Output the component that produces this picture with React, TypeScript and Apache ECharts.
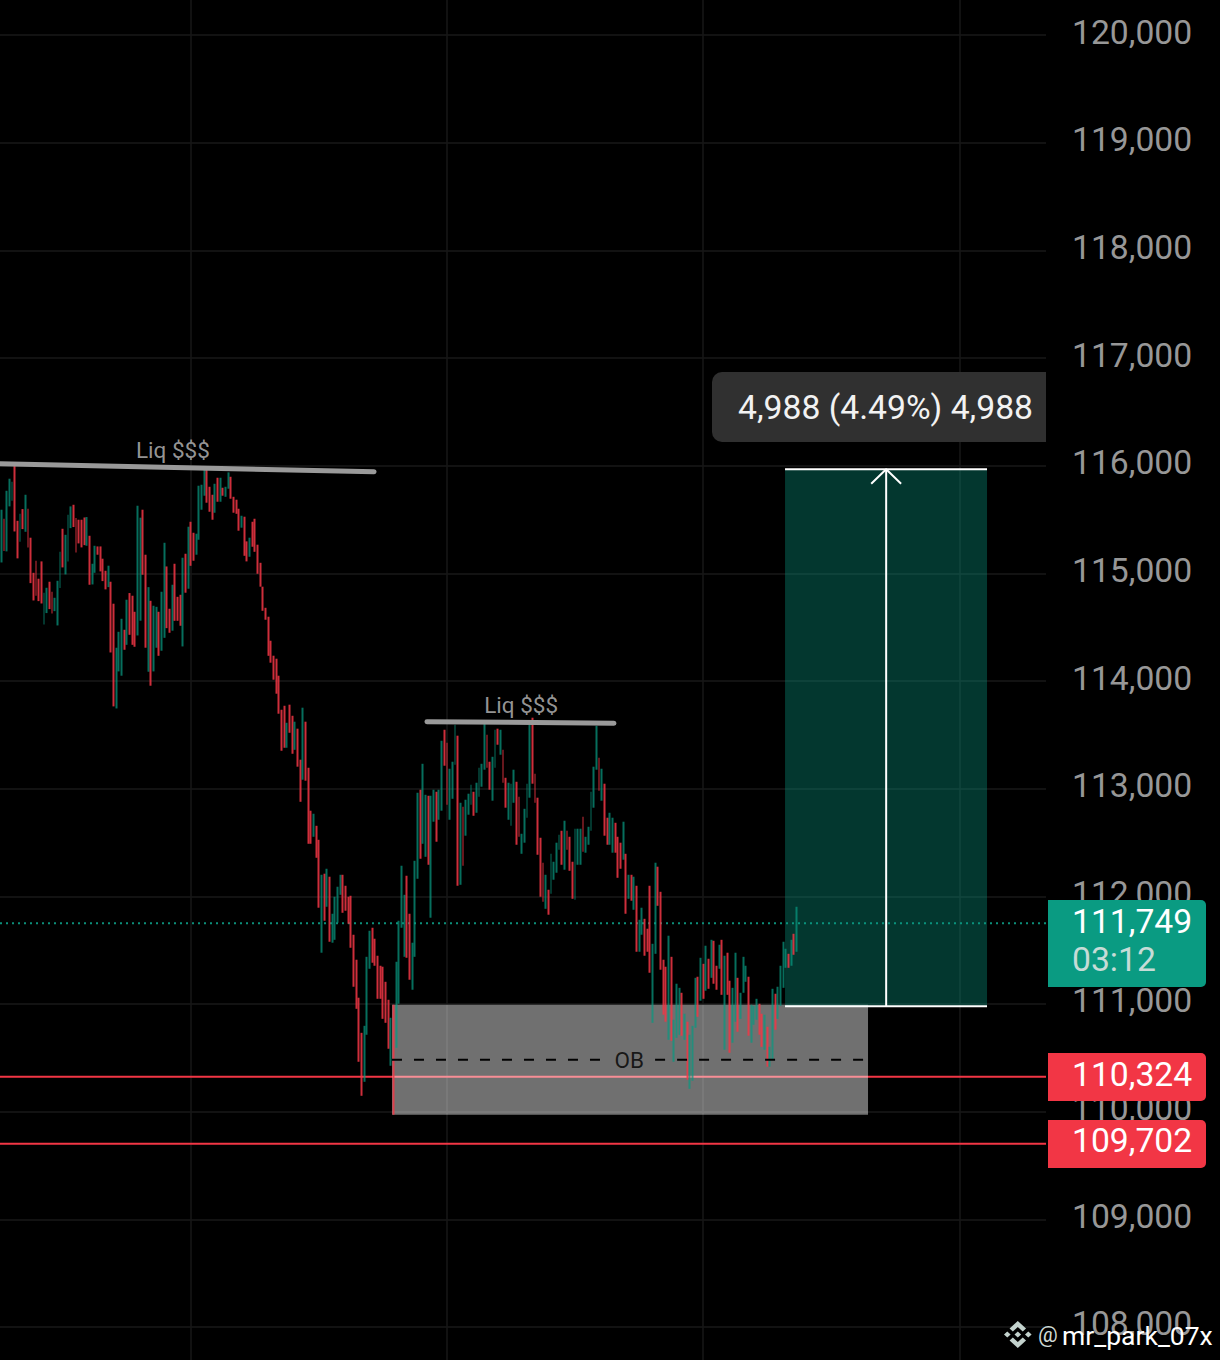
import React, { useEffect, useRef } from "react";
import * as echarts from "echarts";

const priceTicks = [121000, 120000, 119000, 118000, 117000, 116000, 115000, 114000, 113000, 112000, 111000, 110000, 109000, 108000, 107000];

const candleHighs = [
  115591, 115507, 115767, 115879, 115851, 116034, 115488, 115553, 115597, 115730,
  115600, 115331, 115005, 115117, 114950, 115111, 114819, 114866, 114922, 114829,
  114773, 114931, 115200, 115414, 115358, 115544, 115622, 115637, 115513, 115498,
  115498, 115519, 115523, 115349, 115089, 115256, 115250, 115250, 115136, 115024,
  115071, 114922, 114718, 114309, 114457, 114578, 114476, 114755, 114817, 114792,
  114643, 115628, 115517, 115591, 115173, 114872, 114745, 114699, 114689, 114643,
  114829, 115284, 115064, 114671, 114894, 115089, 114782, 114801, 115145, 115182,
  115433, 115479, 115377, 115368, 115814, 115823, 115981, 115972, 115804, 115730,
  115832, 115888, 115888, 115795, 115804, 115938, 115897, 115711, 115684, 115600,
  115535, 115526, 115297, 115331, 115479, 115507, 115266, 115098, 114876, 114680,
  114597, 114374, 114235, 114207, 114049, 113733, 113770, 113612, 113780, 113677,
  113622, 113557, 113269, 113752, 113622, 113194, 112795, 112767, 112655, 112525,
  112200, 112210, 112256, 112182, 111838, 111996, 112089, 112200, 112200, 112098,
  111996, 112005, 111643, 111411, 111058, 110732, 110797, 111438, 111680, 111708,
  111606, 111448, 111355, 111346, 111206, 111039, 110872, 110993, 111392, 111773,
  112284, 112014, 112191, 111838, 111569, 112330, 112962, 112990, 113231, 112943,
  112934, 112934, 112990, 112971, 112990, 113445, 113547, 113427, 113185, 113250,
  113594, 113492, 112869, 112832, 112897, 112953, 113036, 112971, 113055, 113194,
  113231, 113603, 113501, 113250, 113296, 113547, 113557, 113547, 113361, 113101,
  113055, 113046, 113176, 113064, 112925, 112581, 112813, 113046, 113594, 113659,
  113139, 112916, 112544, 112312, 112200, 112061, 112395, 112321, 112498, 112572,
  112609, 112702, 112609, 112553, 112321, 112628, 112628, 112628, 112739, 112553,
  112646, 112971, 113204, 113584, 113287, 113185, 113046, 112730, 112776, 112730,
  112683, 112553, 112498, 112693, 112395, 112200, 112200, 112182, 112098, 111782,
  111894, 111791, 111699, 112098, 111559, 112312, 112275, 112042, 111411, 111346,
  111634, 111438, 110853, 111188, 111150, 111104, 110909, 110835, 110714, 110797,
  111243, 111253, 111429, 111373, 111541, 111420, 111596, 111587, 111355, 111550,
  111596, 111448, 111476, 111216, 111150, 111476, 111243, 111104, 111438, 111355,
  111253, 110993, 110983, 111048, 111002, 110909, 110900, 110788, 110602, 111141,
  111095, 111160, 111355, 111578, 111513, 111466, 111596, 111652, 111903,
];

const candleLows = [
  115101, 115207, 115204, 115622, 115674, 115389, 115139, 115293, 115411, 115386,
  115241, 114909, 114748, 114792, 114742, 114720, 114525, 114631, 114668, 114628,
  114649, 114516, 114863, 115055, 114990, 115111, 115420, 115430, 115194, 115278,
  115241, 115262, 115256, 114894, 114897, 115005, 115173, 115018, 114928, 114851,
  114872, 114265, 113764, 113745, 114089, 114049, 114290, 114336, 114429, 114336,
  114318, 114423, 114560, 114987, 114309, 114086, 113956, 114089, 114309, 114234,
  114281, 114401, 114491, 114448, 114467, 114559, 114559, 114513, 114321, 114820,
  114857, 115070, 115117, 115173, 115312, 115591, 115721, 115656, 115572, 115498,
  115563, 115665, 115665, 115721, 115711, 115786, 115693, 115563, 115553, 115396,
  115424, 115163, 115111, 115154, 115247, 115200, 114996, 114876, 114652, 114569,
  114234, 114170, 114012, 113882, 113696, 113352, 113380, 113380, 113519, 113324,
  113361, 113204, 112878, 113083, 113074, 112488, 112488, 112553, 112358, 111894,
  111476, 111773, 111903, 111578, 111569, 111596, 111754, 112014, 111847, 111866,
  111745, 111522, 111160, 110955, 110463, 110147, 110277, 110714, 111327, 111383,
  111355, 111048, 111048, 110862, 110825, 110584, 110426, 109971, 110593, 111002,
  111708, 111438, 111429, 111225, 111132, 111438, 112163, 112349, 112488, 112367,
  112293, 111801, 112693, 112507, 112711, 112795, 113213, 112851, 112711, 112906,
  113222, 112098, 112107, 112284, 112563, 112758, 112851, 112748, 112776, 112925,
  113018, 113176, 113194, 112990, 112888, 113194, 113408, 113315, 113055, 112823,
  112711, 112655, 112869, 112479, 112553, 112395, 112498, 112730, 112916, 113046,
  112869, 112386, 111996, 111949, 111884, 111829, 112024, 112154, 112219, 112433,
  112293, 112247, 112433, 112237, 111977, 111968, 112293, 112293, 112414, 112405,
  112479, 112609, 112823, 113176, 112981, 112888, 112563, 112479, 112479, 112405,
  112405, 112172, 112256, 112340, 111838, 111977, 111959, 111875, 111485, 111485,
  111643, 111448, 111485, 111290, 110825, 111466, 111912, 111318, 110900, 110835,
  110667, 110658, 110463, 110686, 110714, 110705, 110667, 110296, 110212, 110287,
  110779, 110881, 111030, 111048, 111123, 111141, 111243, 111188, 111132, 111327,
  111085, 110575, 111085, 110547, 110640, 110835, 110742, 110862, 111104, 111206,
  110705, 110640, 110807, 110853, 110714, 110602, 110575, 110417, 110417, 110482,
  110760, 110862, 110983, 111150, 111336, 111336, 111355, 111457, 111485,
];

const candleDirections = (
  "GRGGGRRGRG RRRRRRGGRR GGGRGGGRRR RRGRGGRRRR GRRGGGRGRR RGGRRGRGGR GGRRGRRRGR GRRGGGGRRR GRGRGGRRRR GRRGRRRRRR " +
  "RRRRRRRGRR GRRGRRRGRR GRGRGGGGRR RRRRRRGGGR RRRRRRGRGG GGRRGGGRGG RGGRGGRRGG GRGRGGGRGG GGRRGGRGRR GGGRRGGGGR " +
  "RRRRGRGGGG RGRRRGGGRG GGGGRGRRGG RRRGRGRGRG GRRRGGRRRR GRGGGRGRGG GRGRGRGRRG RGRRGGRGGG RGGGRRGRGG RGGGGRGRG"
).replace(/ /g, "").split("");

const candleSlots = Array.from({ length: 392 }, (_, i) => String(i));

const lastPrice = 111749;
const stopLevels = [110324, 109702];
const measureBox = [293.7, 115967, 369.4, 110979];
const measureArrowX = 331.6;
const measureArrowBarbs = [[326, 115833], [331.6, 115967], [337.2, 115833]];
const obBox = [146.4, 110993, 324.8, 109971];
const obLineLevel = 110481;
const obDashLeft = [146.4, 224.4];
const obDashRight = [245, 324.8];
const liqLineA = [[-0.5, 116018], [139.7, 115944]];
const liqLineB = [[159.5, 113622], [229.6, 113608]];
const noteMarks = [
  { value: [64.3, 116149], text: "Liq $$$", color: "#bdbdbd" },
  { value: [194.8, 113780], text: "Liq $$$", color: "#bdbdbd" },
  { value: [235.3, 110475], text: "OB", color: "#000000" },
];

const FONT = "Roboto";
const binancePath =
  "M12 2 L17.5 7.5 L15.3 9.7 L12 6.4 L8.7 9.7 L6.5 7.5 Z M12 22 L6.5 16.5 L8.7 14.3 L12 17.6 L15.3 14.3 L17.5 16.5 Z M5 9.8 L7.2 12 L5 14.2 L2.8 12 Z M19 9.8 L21.2 12 L19 14.2 L16.8 12 Z M12 9.8 L14.2 12 L12 14.2 L9.8 12 Z";
echarts.graphic.registerShape("binanceLogo", echarts.graphic.extendPath(binancePath, {}));

function overlayLine(data: number[][], color: string, width: number, z: number, extra: any = {}) {
  return {
    type: "line",
    xAxisIndex: 1,
    yAxisIndex: 0,
    data,
    symbol: "none",
    silent: true,
    z,
    lineStyle: { color, width, ...extra },
  };
}

function overlayRect(box: number[], fill: string, z: number) {
  return {
    type: "custom",
    xAxisIndex: 1,
    yAxisIndex: 0,
    silent: true,
    z,
    data: [box],
    encode: { x: [0, 2], y: [1, 3] },
    renderItem: (_: any, api: any) => {
      const a = api.coord([api.value(0), api.value(1)]);
      const b = api.coord([api.value(2), api.value(3)]);
      return {
        type: "rect",
        shape: { x: a[0], y: a[1], width: b[0] - a[0], height: b[1] - a[1] },
        style: { fill },
      };
    },
  };
}

function badgeText(text: string, x: number, y: number, fill = "#ffffff", fontSize = 33.7) {
  return {
    type: "text",
    x,
    y,
    z: 30,
    style: { text, fill, font: `${fontSize}px ${FONT}`, textAlign: "left", textVerticalAlign: "middle" },
  };
}

export default function App() {
  const ref = useRef<HTMLDivElement>(null);
  useEffect(() => {
    document.body.style.margin = "0";
    document.body.style.background = "#000";
    const chart = echarts.init(ref.current!, undefined, { renderer: "svg" });
    const candles = candleHighs.map((h, i) =>
      candleDirections[i] === "G" ? [candleLows[i], h, candleLows[i], h] : [h, candleLows[i], candleLows[i], h]
    );
    chart.setOption({
      animation: false,
      backgroundColor: "#000000",
      grid: { left: 0, width: 1046, top: -72.6, height: 1507.2, containLabel: false, outerBoundsMode: "none" },
      xAxis: [
        {
          type: "category",
          data: candleSlots,
          axisLine: { show: false },
          axisTick: { show: false },
          axisLabel: { show: false },
          splitLine: {
            show: true,
            alignWithLabel: true,
            interval: (index: number) => index >= 71 && (index - 71) % 96 === 0,
            lineStyle: { color: "#171717", width: 1.5 },
          },
        },
        { type: "value", min: -0.5, max: 391.5, show: false, splitLine: { show: false } },
      ],
      yAxis: {
        type: "value",
        position: "right",
        min: 107000,
        max: 121000,
        interval: 1000,
        axisLine: { show: false },
        axisTick: { show: false },
        splitLine: { show: true, lineStyle: { color: "#191919", width: 1.5 } },
        axisLabel: {
          margin: 26,
          fontFamily: FONT,
          fontSize: 33.7,
          color: "#979797",
          verticalAlign: "bottom",
          lineHeight: 6,
          hideOverlap: false,
          formatter: (v: number) => (v === priceTicks[0] || v === priceTicks[priceTicks.length - 1] ? "" : v.toLocaleString("en-US")),
        },
      },
      series: [
        overlayLine([[-0.5, stopLevels[0]], [391.5, stopLevels[0]]], "#f23645", 2, 1),
        overlayLine([[-0.5, stopLevels[1]], [391.5, stopLevels[1]]], "#f23645", 2, 1),
        overlayLine([[-0.5, lastPrice], [391.5, lastPrice]], "#0c8f7a", 2, 1, { type: [2, 4] }),
        overlayRect(obBox, "rgba(255,255,255,0.44)", 2),
        overlayRect(measureBox, "rgba(8,153,129,0.36)", 2),
        {
          type: "candlestick",
          xAxisIndex: 0,
          yAxisIndex: 0,
          data: candles,
          barWidth: 2.4,
          silent: true,
          z: 5,
          itemStyle: {
            color: "rgba(8,153,129,0.72)",
            color0: "rgba(242,54,69,0.85)",
            borderColor: "rgba(8,153,129,0.72)",
            borderColor0: "rgba(242,54,69,0.85)",
            borderWidth: 0,
          },
        },
        overlayLine(obDashLeft.map((x) => [x, obLineLevel]), "#000000", 2, 6, { type: [10, 12] }),
        overlayLine(obDashRight.map((x) => [x, obLineLevel]), "#000000", 2, 6, { type: [10, 12] }),
        overlayLine(liqLineA, "#9a9a9a", 5, 7, { cap: "round" }),
        overlayLine(liqLineB, "#9a9a9a", 5, 7, { cap: "round" }),
        overlayLine([[measureBox[0], measureBox[1]], [measureBox[2], measureBox[1]]], "#ffffff", 2, 8),
        overlayLine([[measureBox[0], measureBox[3]], [measureBox[2], measureBox[3]]], "#ffffff", 2, 8),
        overlayLine([[measureArrowX, measureBox[3]], [measureArrowX, measureBox[1]]], "#ffffff", 2, 8),
        overlayLine(measureArrowBarbs, "#ffffff", 2, 8),
        {
          type: "scatter",
          xAxisIndex: 1,
          yAxisIndex: 0,
          symbolSize: 1,
          silent: true,
          z: 9,
          itemStyle: { color: "transparent" },
          data: noteMarks.map((m) => ({
            value: m.value,
            label: {
              show: true,
              position: "inside",
              formatter: m.text,
              color: m.color,
              fontFamily: FONT,
              fontSize: 22.5,
            },
          })),
        },
      ],
      graphic: [
        { type: "rect", z: 20, shape: { x: 712, y: 372, width: 334, height: 70, r: [10, 0, 0, 10] }, style: { fill: "#303030" } },
        badgeText("4,988 (4.49%) 4,988", 738, 407, "#f2f2f2"),
        { type: "rect", z: 20, shape: { x: 1048, y: 900, width: 158, height: 87, r: [0, 5, 5, 0] }, style: { fill: "#0a9b82" } },
        badgeText("111,749", 1072, 921),
        badgeText("03:12", 1072, 959, "#c6dcd7"),
        { type: "rect", z: 20, shape: { x: 1048, y: 1053, width: 158, height: 48, r: [0, 5, 5, 0] }, style: { fill: "#f23645" } },
        badgeText("110,324", 1072, 1074),
        { type: "rect", z: 20, shape: { x: 1048, y: 1120, width: 158, height: 48, r: [0, 5, 5, 0] }, style: { fill: "#f23645" } },
        badgeText("109,702", 1072, 1140),
        { type: "binanceLogo", z: 30, x: 999.8, y: 1318.3, scaleX: 1.5, scaleY: 1.35, style: { fill: "#c3d2cd" } },
        badgeText("@", 1038, 1334, "#cfdad6", 22),
        badgeText("mr_park_07x", 1062, 1335, "#ffffff", 26.5),
      ],
    });
    return () => chart.dispose();
  }, []);
  return (
    <div
      ref={ref}
      style={{ position: "absolute", left: 0, top: 0, width: 1220, height: 1360, overflow: "hidden", background: "#000" }}
    />
  );
}
